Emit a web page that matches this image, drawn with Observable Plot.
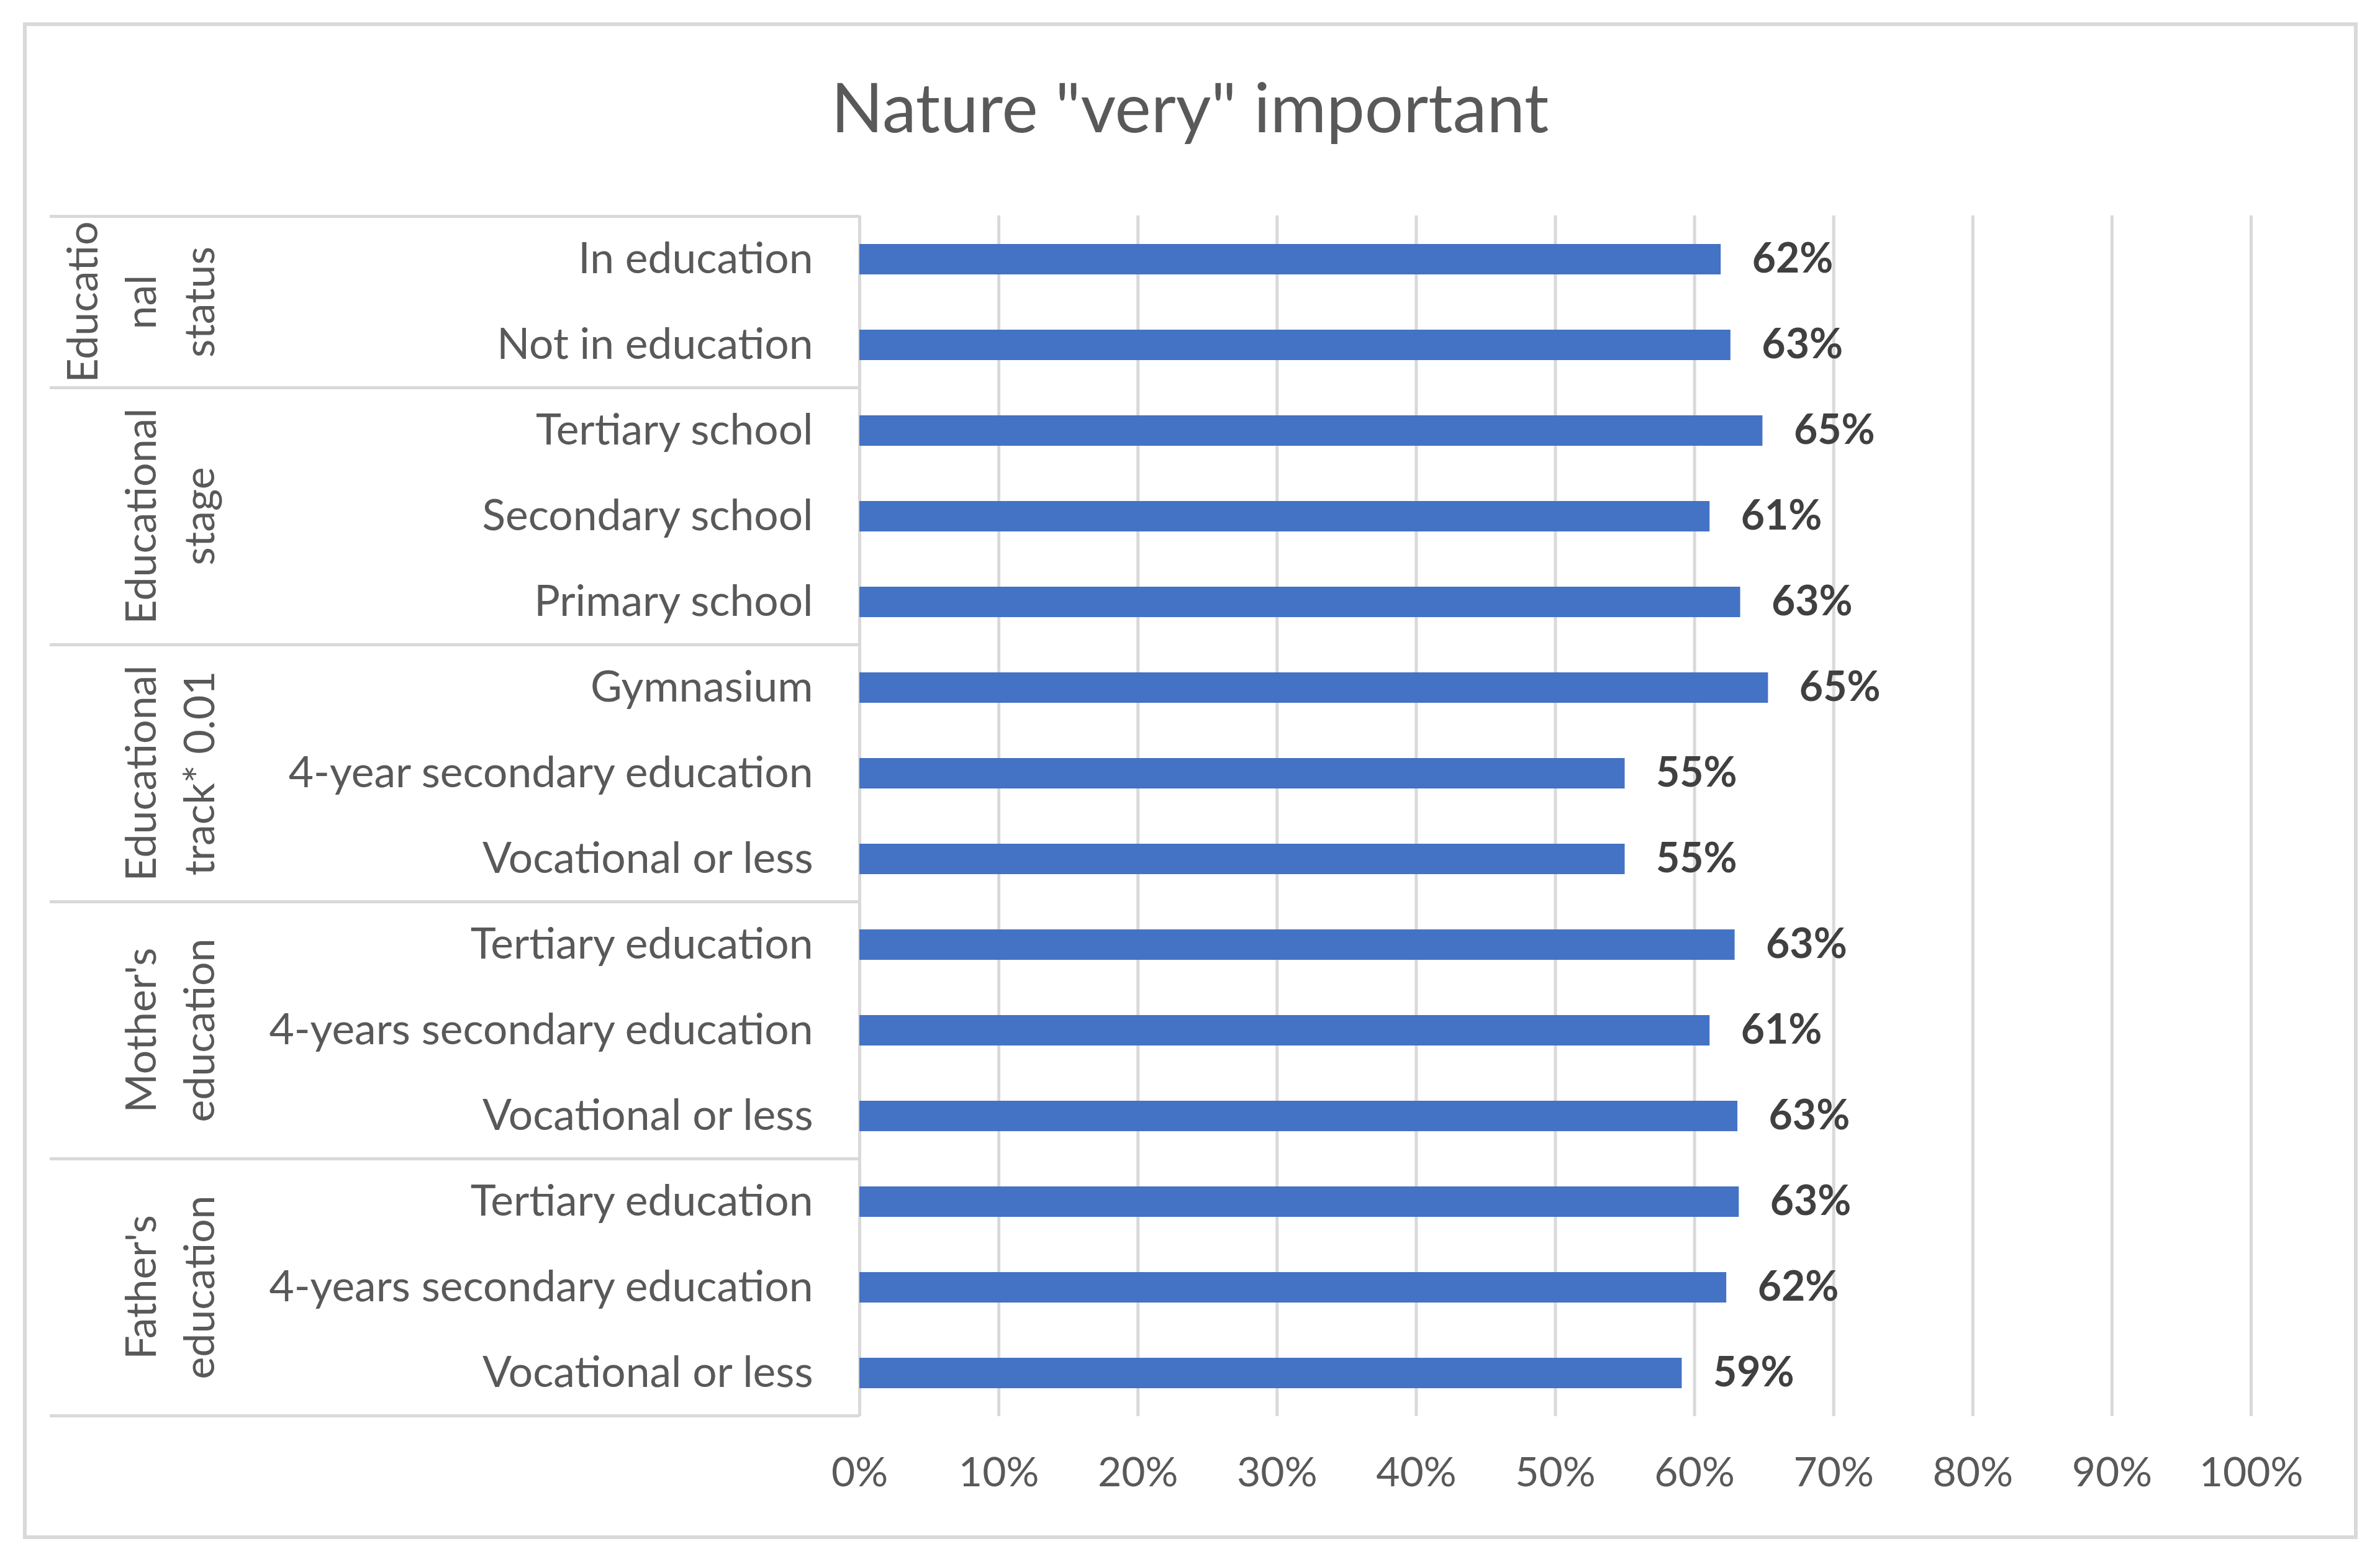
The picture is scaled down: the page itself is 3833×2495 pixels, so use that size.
<!DOCTYPE html>
<html><head><meta charset="utf-8">
<script src="https://cdn.jsdelivr.net/npm/d3@7"></script>
<script src="https://cdn.jsdelivr.net/npm/@observablehq/plot@0.6"></script>
<style>
html,body{margin:0;padding:0;background:#fff;}
#frame{position:absolute;left:37px;top:36px;width:3760px;height:2443px;border:6px solid #d9d9d9;box-sizing:border-box;}
#title{position:absolute;left:0;top:115px;width:3833px;text-align:center;font-family:Lato;font-size:110px;color:#595959;line-height:1;white-space:pre;}
#chart{position:absolute;left:0;top:250px;}
</style></head><body>
<div id="frame"></div>
<div id="title">Nature "very" important</div>
<div id="chart"></div>
<script>
const groupNames = ["Educatio\nnal\nstatus", "Educational\nstage", "Educational\ntrack* 0.01", "Mother's\neducation", "Father's\neducation"];
const groupSizes = [2, 3, 3, 3, 3];
const categories = [
  "In education", "Not in education",
  "Tertiary school", "Secondary school", "Primary school",
  "Gymnasium", "4-year secondary education", "Vocational or less",
  "Tertiary education", "4-years secondary education", "Vocational or less",
  "Tertiary education", "4-years secondary education", "Vocational or less"
];
const values = [0.619, 0.626, 0.649, 0.611, 0.633, 0.653, 0.550, 0.550, 0.629, 0.611, 0.631, 0.632, 0.623, 0.591];
const valueLabels = ["62%", "63%", "65%", "61%", "63%", "65%", "55%", "55%", "63%", "61%", "63%", "63%", "62%", "59%"];
const xTicks = [0, 0.1, 0.2, 0.3, 0.4, 0.5, 0.6, 0.7, 0.8, 0.9, 1.0];

const rows = categories.map((c, i) => ({id: i, label: c, value: values[i], text: valueLabels[i]}));
const ids = rows.map(r => r.id);

const FS = 66;
const FS_CAT = 69.5;
const FS_GROUP = 68;
const GRID = "#d9d9d9";

function groupMark(index, scales) {
  const y = scales.y;
  const step = y.step(), bw = y.bandwidth();
  const g = d3.create("svg:g");
  let start = 0;
  const lineX1 = 80, lineX2 = 1384;
  groupNames.forEach((name, gi) => {
    const n = groupSizes[gi];
    const top = y(ids[start]) + bw / 2 - step / 2;
    const bottom = y(ids[start + n - 1]) + bw / 2 + step / 2;
    if (gi === 0) {
      g.append("line").attr("x1", lineX1).attr("x2", lineX2).attr("y1", top).attr("y2", top)
        .attr("stroke", GRID).attr("stroke-width", 5);
    }
    g.append("line").attr("x1", lineX1).attr("x2", lineX2).attr("y1", bottom).attr("y2", bottom)
      .attr("stroke", GRID).attr("stroke-width", 5);
    const lines = name.split("\n");
    const cy = (top + bottom) / 2;
    lines.forEach((t, li) => {
      const cx = 321 - (lines.length - 1 - li) * 94;
      g.append("text")
        .attr("transform", `translate(${cx},${cy}) rotate(-90)`)
        .attr("text-anchor", "middle")
        .attr("dy", "0.36em")
        .attr("fill", "#595959")
        .attr("font-size", FS_GROUP)
        .text(t);
    });
    start += n;
  });
  return g.node();
}

const plot = Plot.plot({
  width: 3833,
  height: 2200,
  marginTop: 97,
  marginBottom: 169,
  marginLeft: 1384,
  marginRight: 208,
  style: {fontFamily: "Lato", color: "#595959", background: "transparent", overflow: "visible"},
  x: {domain: [0, 1]},
  y: {domain: ids, paddingInner: 0.645, paddingOuter: 0.3225},
  marks: [
    Plot.gridX(xTicks, {stroke: GRID, strokeWidth: 5, strokeOpacity: 1}),
    Plot.barX(rows, {x: "value", y: "id", fill: "#4472C4"}),
    Plot.text(rows, {x: "value", y: "id", text: "text", textAnchor: "start", dx: 50, fill: "#404040", fontWeight: "bold", fontSize: FS}),
    Plot.axisX({ticks: xTicks, tickFormat: d3.format(".0%"), tickSize: 0, tickPadding: 66, fontSize: FS, label: null}),
    Plot.axisY({tickSize: 0, tickPadding: 75, fontSize: FS_CAT, tickFormat: i => categories[i], label: null}),
    groupMark
  ]
});
document.getElementById("chart").appendChild(plot);
</script>
</body></html>
